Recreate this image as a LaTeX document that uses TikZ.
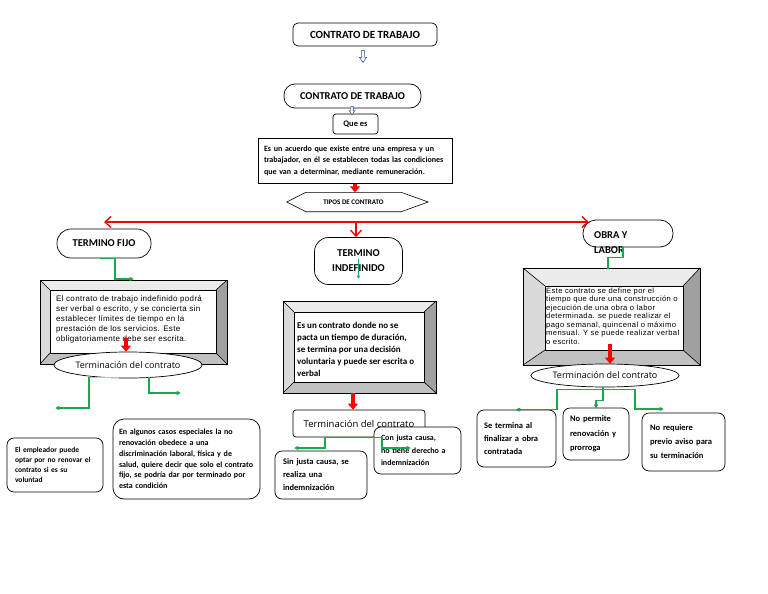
\documentclass[tikz,border=0pt]{standalone}
\usepackage{fontspec}
\setmainfont{Carlito}
\newfontfamily\arialL[LetterSpace=4]{Liberation Sans}
\newfontfamily\arialR[LetterSpace=5]{Liberation Sans}
\newfontfamily\opens{Open Sans}
\usetikzlibrary{shapes.geometric,arrows.meta,calc}
\definecolor{grn}{RGB}{24,168,80}
\definecolor{ablue}{RGB}{47,85,151}
\definecolor{bvtop}{RGB}{236,236,236}
\definecolor{bvleft}{RGB}{218,218,218}
\definecolor{bvbot}{RGB}{192,192,192}
\definecolor{bvright}{RGB}{160,160,160}
\newcommand{\bevelbox}[8]{%
  \fill[bvtop] (#1,#2) -- (#3,#2) -- (#7,#6) -- (#5,#6) -- cycle;
  \fill[bvleft] (#1,#2) -- (#5,#6) -- (#5,#8) -- (#1,#4) -- cycle;
  \fill[bvbot] (#1,#4) -- (#5,#8) -- (#7,#8) -- (#3,#4) -- cycle;
  \fill[bvright] (#3,#2) -- (#3,#4) -- (#7,#8) -- (#7,#6) -- cycle;
  \draw[line width=0.7pt] (#1,#2) rectangle (#3,#4);
  \draw[line width=0.6pt, fill=white] (#5,#6) rectangle (#7,#8);
  \draw[line width=0.6pt] (#1,#2) -- (#5,#6) (#3,#2) -- (#7,#6) (#1,#4) -- (#5,#8) (#3,#4) -- (#7,#8);
}
\begin{document}
\begin{tikzpicture}[x=1pt,y=-1pt,
  rbox/.style={draw, line width=0.7pt, fill=white, rounded corners=6pt, inner ysep=0pt, align=left},
  sharpbox/.style={draw, line width=1pt, fill=white, inner ysep=0pt, align=left},
  stad/.style={draw, line width=0.7pt, fill=white, rounded corners=#1, inner sep=0pt, align=center},
  term/.style={draw, line width=0.7pt, fill=white, font=\opens\fontsize{9}{11}\selectfont, inner sep=0pt},
  gl/.style={draw=grn, line width=1.3pt},
  gdot/.style={gl, -{Ellipse[length=5pt,width=3.5pt]}},
  redarrow/.style={draw=red, line width=3.5pt, -{Triangle[length=6pt,width=10pt]}},
  redline/.style={draw=red, line width=1.4pt},
  hollowp/.style={draw=ablue, line width=0.6pt, fill=white, line join=miter},
  bevtext/.style={inner sep=0pt, align=left}
]
\useasboundingbox[fill=white] (0,0) rectangle (768,594);

% ---- top part
\node[rbox, rounded corners=5pt, minimum width=144pt, minimum height=23pt, align=center, font=\bfseries\fontsize{11}{13}\selectfont] (ct1) at (365,34.5) {CONTRATO DE TRABAJO};
\node[rbox, rounded corners=11pt, minimum width=137pt, minimum height=24pt, align=center, font=\bfseries\fontsize{10.5}{12}\selectfont] (ct2) at (352.5,96) {CONTRATO DE TRABAJO};
\node[rbox, rounded corners=3pt, minimum width=45pt, minimum height=20pt, align=center, font=\bfseries\fontsize{8.5}{10}\selectfont] (quees) at (355.5,124) {Que es};
% hollow arrows
\draw[hollowp] ($(ct1.south)+(-3.6,4)$) -- ++(3.2,0) -- ++(0,7) -- ++(1.9,0) -- ++(-3.5,5) -- ++(-3.5,-5) -- ++(1.9,0) -- cycle;
\draw[hollowp] ($(ct2.south)+(-1.7,-2)$) -- ++(2.4,0) -- ++(0,4.5) -- ++(1.6,0) -- ++(-2.8,4) -- ++(-2.8,-4) -- ++(1.6,0) -- cycle;

\node[sharpbox, minimum width=194pt, minimum height=45pt, text width=182pt, inner xsep=6pt, font=\bfseries\fontsize{8}{11.6}\selectfont] (def) at (355,160.5) {Es un acuerdo que existe entre una empresa y un\\trabajador, en él se establecen todas las condiciones\\que van a determinar, mediante remuneración.};

\node[minimum width=95pt, minimum height=19pt, inner sep=0pt, font=\bfseries\fontsize{7}{8}\selectfont] (tipos) at (353.5,202) {TIPOS DE CONTRATO};
\draw[line width=0.6pt] (tipos.north west) -- (tipos.north east) -- ($(tipos.east)+(27,0)$) -- (tipos.south east) -- (tipos.south west) -- ($(tipos.west)+(-19,0)$) -- cycle;
\draw[redarrow] (def.south) -- (def.south |- tipos.north);

% ---- three types
\node[stad=14pt, minimum width=94pt, minimum height=29pt, font=\bfseries\fontsize{10.5}{12}\selectfont] (tfijo) at (104,243.5) {TERMINO FIJO};
\node[stad=14pt, minimum width=88pt, minimum height=47pt, font=\bfseries\fontsize{10.5}{15}\selectfont] (tindef) at (358.5,261) {TERMINO\\INDEFINIDO};
\node[stad=13pt, minimum width=90pt, minimum height=27pt] (obra) at (628,233.5) {};
\node[anchor=north west, inner sep=0pt, align=left, font=\bfseries\fontsize{10.5}{15}\selectfont] (obratxt) at (594,231) {OBRA Y\\LABOR};

\coordinate (split) at (356,222);
\coordinate (lend) at (tfijo.north |- split);
\coordinate (rend) at (589,222);
\draw[redline, {Straight Barb[length=6pt,width=11pt]}-{Straight Barb[length=6pt,width=11pt]}] (lend) -- (rend);
\draw[redline, -{Straight Barb[length=6pt,width=11pt]}] (split) -- (split |- tindef.north);

\draw[gl, -{Ellipse[length=3pt,width=2.5pt]}] ($(tindef.center)+(0,-2)$) -- ($(tindef.center)+(0,17)$);

% ---- bevel boxes
\bevelbox{40}{280}{227}{364}{50}{290}{216}{353}
\bevelbox{283}{301}{436}{393}{294}{312}{424}{382}
\bevelbox{523}{268}{700}{365}{545}{286}{683}{350}

\node[bevtext, anchor=west, font=\arialL\fontsize{8}{10}\selectfont] (ltxt) at (56,319) {El contrato de trabajo indefinido podrá\\ser verbal o escrito, y se concierta sin\\establecer límites de tiempo en la\\prestación de los servicios. Este\\obligatoriamente debe ser escrita.};
\node[bevtext, anchor=west, font=\bfseries\fontsize{9}{12}\selectfont] (mtxt) at (297,349) {Es un contrato donde no se\\pacta un tiempo de duración,\\se termina por una decisión\\voluntaria y puede ser escrita o\\verbal};
\node[bevtext, anchor=west, font=\arialR\fontsize{7.6}{8.5}\selectfont] (rtxt) at (546,316) {Este contrato se define por el\\tiempo que dure una construcción o\\ejecución de una obra o labor\\determinada. se puede realizar el\\pago semanal, quincenal o máximo\\mensual. Y se puede realizar verbal\\o escrito.};

\coordinate (ltop) at (133,279);
\coordinate (rtop) at (608,269);
\draw[gdot] ($(tfijo.south)+(-4,0)$) -- ($(tfijo.south)+(11,0)$) |- (ltop);
\draw[gl] ($(obra.south)+(-5,0)$) -- ++(0,10) -| (rtop);

% ---- terminations
\node[term, ellipse, minimum width=142pt, minimum height=26pt] (lterm) at (128,365) {Terminación del contrato};
\node[term, rounded corners=3pt, minimum width=132pt, minimum height=27pt, font=\opens\fontsize{9.5}{11}\selectfont] (mterm) at (359,423.5) {Terminación del contrato};
\node[term, ellipse, minimum width=138pt, minimum height=23pt] (rterm) at (605,375.5) {Terminación del contrato};

\draw[redarrow] ($(lterm.north)+(-2,-14)$) -- ($(lterm.north)+(-2,0)$);
\coordinate (mbot) at (353,393);
\draw[redarrow] (mbot) -- (mbot |- mterm.north);
\draw[redarrow] ($(rterm.north)+(5,-20)$) -- ($(rterm.north)+(5,0)$);

% ---- bottom boxes
\node[rbox, rounded corners=7pt, minimum width=96pt, minimum height=54pt, text width=80pt, inner xsep=8pt, font=\bfseries\fontsize{7.5}{10}\selectfont] (emp) at (55,465) {El empleador puede\\optar por no renovar el\\contrato si es su\\voluntad};
\node[rbox, rounded corners=11pt, minimum width=147pt, minimum height=80pt, text width=135pt, inner xsep=6pt, font=\bfseries\fontsize{8}{10.8}\selectfont] (alg) at (186.5,459) {En algunos casos especiales la no\\renovación obedece a una\\discriminación laboral, física y de\\salud, quiere decir que solo el contrato\\fijo, se podría dar por terminado por\\esta condición};
\node[rbox, rounded corners=7pt, minimum width=92pt, minimum height=48pt, text width=76pt, inner xsep=8pt, font=\bfseries\fontsize{8.5}{13}\selectfont] (sin) at (321,475) {Sin justa causa, se\\realiza una\\indemnización};
\node[rbox, rounded corners=7pt, minimum width=87pt, minimum height=47pt, text width=73pt, inner xsep=7pt, font=\bfseries\fontsize{8}{12.5}\selectfont] (con) at (417.5,450.5) {Con justa causa,\\no tiene derecho a\\indemnización};
\node[rbox, rounded corners=7pt, minimum width=79pt, minimum height=57pt, text width=65pt, inner xsep=7pt, font=\bfseries\fontsize{8.5}{13}\selectfont] (se) at (516.5,438.5) {Se termina al\\finalizar a obra\\contratada};
\node[rbox, rounded corners=7pt, minimum width=66pt, minimum height=52pt, text width=52pt, inner xsep=7pt, font=\bfseries\fontsize{8.5}{14.5}\selectfont] (nop) at (596,434) {No permite\\renovación y\\prorroga};
\node[rbox, rounded corners=7pt, minimum width=83pt, minimum height=58pt, text width=67pt, inner xsep=8pt, font=\bfseries\fontsize{8.5}{14}\selectfont] (nor) at (683.5,442) {No requiere\\previo aviso para\\su terminación};

% ---- green connectors from terminations
\coordinate (gl1) at (56,408);
\coordinate (gl2) at (180,393);
\draw[grn!45, line width=1pt] ($(lterm.south)+(-39,-1)$) -- ($(lterm.south)+(-9,-1)$);
\draw[gdot] ($(lterm.south)+(-39,-1)$) |- (gl1);
\draw[gdot] ($(lterm.south)+(21,-1)$) |- (gl2);

\coordinate (ms) at ($(mterm.south)+(-6,0)$);
\coordinate (gm1) at (295,448);
\coordinate (gm2) at (410,448);
\draw[gdot] (ms) -- ++(-28,0) |- (gm1);
\draw[gdot] (ms) -- ++(29,0) |- (gm2);

\coordinate (rj) at ($(rterm.south)+(-2,2)$);
\coordinate (gr3) at (663,409);
\draw[gl] ($(rterm.south)+(-2,0)$) -- (rj);
\draw[gdot] (rj) -- ++(-46,0) |- (se.north);
\draw[gdot] (rj) -- ++(0,11) -| (nop.north);
\draw[gdot] (rj) -- ++(32,0) |- (gr3);
\end{tikzpicture}
\end{document}
